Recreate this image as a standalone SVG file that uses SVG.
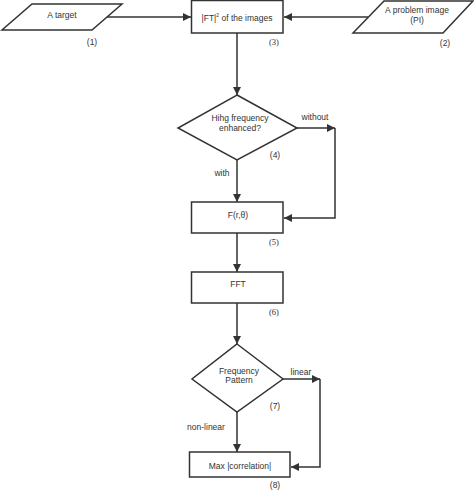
<svg xmlns="http://www.w3.org/2000/svg" width="474" height="493" viewBox="0 0 474 493">
<defs>
<marker id="ah" viewBox="0 0 10 10" refX="10" refY="5" markerWidth="8" markerHeight="8" markerUnits="userSpaceOnUse" orient="auto">
<path d="M0,0 L10,5 L0,10 z" fill="#333"/>
</marker>
<style>
.s{fill:#fff;stroke:#333;stroke-width:1.5}
.c{fill:none;stroke:#333;stroke-width:1.5}
.t{font-family:"Liberation Sans",Arial,sans-serif;font-size:8.5px;fill:#333;text-anchor:middle}
.n{font-family:"Liberation Serif","Times New Roman",serif;font-size:8.5px;fill:#333;text-anchor:middle}
</style>
</defs>
<rect width="474" height="493" fill="#fff"/>
<g id="connectors">
<path class="c" d="M107,17 L191,17" marker-end="url(#ah)"/>
<path class="c" d="M368,17 L284,17" marker-end="url(#ah)"/>
<path class="c" d="M237,33 L237,95" marker-end="url(#ah)"/>
<path class="c" d="M297,128 L335,128" marker-end="url(#ah)"/>
<path class="c" d="M335,128 L335,218 L284,218" marker-end="url(#ah)"/>
<path class="c" d="M237,160 L237,202" marker-end="url(#ah)"/>
<path class="c" d="M237,233 L237,272" marker-end="url(#ah)"/>
<path class="c" d="M237,303 L237,344" marker-end="url(#ah)"/>
<path class="c" d="M283,379 L320,379" marker-end="url(#ah)"/>
<path class="c" d="M320,379 L320,467 L291,467" marker-end="url(#ah)"/>
<path class="c" d="M237,412 L237,452" marker-end="url(#ah)"/>
<text class="t" x="315" y="120">without</text>
<text class="t" x="222" y="176">with</text>
<text class="t" x="301" y="375">linear</text>
<text class="t" x="206" y="430">non-linear</text>
</g>
<g id="n1">
<polygon class="s" points="32,4 122,4 92,30 2,30"/>
<text class="t" x="62" y="18">A target</text>
<text class="t" x="92" y="45">(1)</text>
</g>
<g id="n2">
<polygon class="s" points="384,1 473,1 443,33 353,33"/>
<text class="t" x="417" y="13">A problem image</text>
<text class="t" x="417" y="23">(PI)</text>
<text class="t" x="445" y="46">(2)</text>
</g>
<g id="n3">
<rect class="s" x="191.5" y="0.5" width="91.5" height="32.5"/>
<text class="t" x="237" y="21">|FT|<tspan font-size="5" dy="-4">2</tspan><tspan dy="4"> of the images</tspan></text>
<text class="n" x="274" y="45">(3)</text>
</g>
<g id="n4">
<polygon class="s" points="237,95 297,128 237,160 178,128"/>
<text class="t" x="240" y="121">Hihg frequency</text>
<text class="t" x="240" y="131">enhanced?</text>
<text class="t" x="275" y="158">(4)</text>
</g>
<g id="n5">
<rect class="s" x="191.5" y="202" width="91.5" height="31"/>
<text class="t" x="238" y="218">F(r,θ)</text>
<text class="n" x="274" y="245">(5)</text>
</g>
<g id="n6">
<rect class="s" x="191.5" y="272" width="91.5" height="31"/>
<text class="t" x="238" y="287">FFT</text>
<text class="n" x="274" y="315">(6)</text>
</g>
<g id="n7">
<polygon class="s" points="237,344 283,379 237,412 192,379"/>
<text class="t" x="239" y="374">Frequency</text>
<text class="t" x="239" y="383">Pattern</text>
<text class="t" x="275" y="409">(7)</text>
</g>
<g id="n8">
<rect class="s" x="189.5" y="452" width="100.5" height="25"/>
<text class="t" x="240" y="469">Max |correlation|</text>
<text class="t" x="275" y="488">(8)</text>
</g>
</svg>
